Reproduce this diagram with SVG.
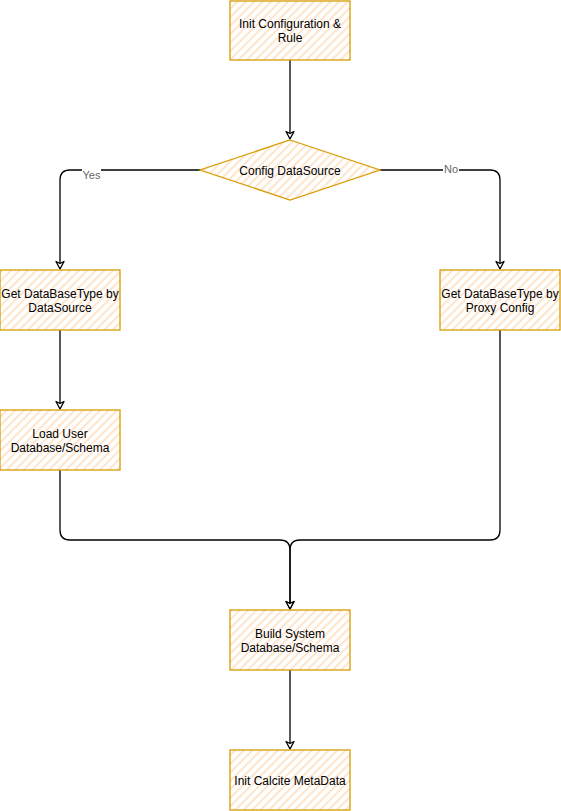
<svg xmlns="http://www.w3.org/2000/svg" width="561" height="811" viewBox="0 0 561 811">
<defs>
<pattern id="hatch" width="6" height="6" patternUnits="userSpaceOnUse" patternTransform="rotate(45)">
<rect width="6" height="6" fill="#ffffff"/>
<line x1="1" y1="0" x2="1" y2="6" stroke="#ffe2c6" stroke-width="1.8"/>
</pattern>
<marker id="arr" viewBox="0 0 10 10" refX="9" refY="5" markerWidth="10" markerHeight="10" markerUnits="userSpaceOnUse" orient="auto">
<path d="M1.5,1 L9,5 L1.5,9 L3.5,5 Z" fill="#ffffff" stroke="#000" stroke-width="1.3" stroke-linejoin="round"/>
</marker>
<style>
.node{fill:url(#hatch);stroke:#d79b00;stroke-width:1.3}
.t{font-family:"Liberation Sans",Arial,Helvetica,sans-serif;font-size:12px;fill:#000;text-anchor:middle}
.lbl{font-family:"Liberation Sans",Arial,Helvetica,sans-serif;font-size:11px;fill:#666;text-anchor:middle}
.edge{fill:none;stroke:#000;stroke-width:1.3;stroke-linejoin:round}
.arrowed{marker-end:url(#arr)}
</style>
</defs>
<rect width="561" height="811" fill="#ffffff"/>
<g id="connectors">
<path class="edge arrowed" d="M290,60 L290,139"/>
<path class="edge arrowed" d="M200,170 L70,170 Q60,170 60,180 L60,269"/>
<path class="edge arrowed" d="M380,170 L490,170 Q500,170 500,180 L500,269"/>
<path class="edge arrowed" d="M60,330 L60,409"/>
<path class="edge arrowed" d="M60,470 L60,530 Q60,540 70,540 L280,540 Q290,540 290,550 L290,609"/>
<path class="edge arrowed" d="M500,330 L500,530 Q500,540 490,540 L300,540 Q290,540 290,550 L290,609"/>
<path class="edge arrowed" d="M290,670 L290,749"/>
<g id="label-yes">
<rect x="82" y="168" width="19" height="14" fill="#ffffff"/>
<text class="lbl" x="91.5" y="179">Yes</text>
</g>
<g id="label-no">
<rect x="443" y="162" width="16" height="14" fill="#ffffff"/>
<text class="lbl" x="451" y="173">No</text>
</g>
</g>
<g id="init-config">
<rect class="node" x="230" y="1" width="120" height="59"/>
<text class="t" x="290" y="27.5">Init Configuration &amp;</text>
<text class="t" x="290" y="41.5">Rule</text>
</g>
<g id="config-datasource">
<path class="node" d="M290,140 L380,170 L290,200 L200,170 Z"/>
<text class="t" x="290" y="174.5">Config DataSource</text>
</g>
<g id="get-type-datasource">
<rect class="node" x="0" y="270" width="120" height="60"/>
<text class="t" x="60" y="297.5">Get DataBaseType by</text>
<text class="t" x="60" y="311.5">DataSource</text>
</g>
<g id="load-user">
<rect class="node" x="0" y="410" width="120" height="60"/>
<text class="t" x="60" y="437.5">Load User</text>
<text class="t" x="60" y="451.5">Database/Schema</text>
</g>
<g id="get-type-proxy">
<rect class="node" x="440" y="270" width="120" height="60"/>
<text class="t" x="500" y="297.5">Get DataBaseType by</text>
<text class="t" x="500" y="311.5">Proxy Config</text>
</g>
<g id="build-system">
<rect class="node" x="230" y="610" width="120" height="60"/>
<text class="t" x="290" y="637.5">Build System</text>
<text class="t" x="290" y="651.5">Database/Schema</text>
</g>
<g id="init-calcite">
<rect class="node" x="230" y="750" width="120" height="60"/>
<text class="t" x="290" y="784.5">Init Calcite MetaData</text>
</g>
</svg>
